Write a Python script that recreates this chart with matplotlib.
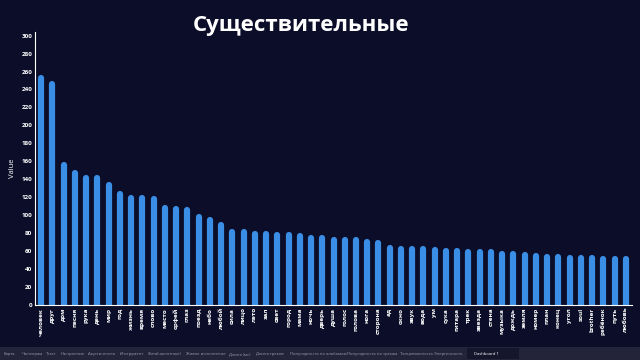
import numpy as np
import matplotlib.pyplot as plt
from matplotlib.patches import Rectangle

words = ['человек', 'друг', 'дом', 'песня', 'рука', 'день', 'мир', 'год', 'жизнь', 'время',
         'слово', 'место', 'орфей', 'глаз', 'поезд', 'небо', 'любой', 'сила', 'лицо', 'лето',
         'зал', 'свет', 'город', 'мама', 'ночь', 'дверь', 'душа', 'голос', 'голова', 'нога',
         'сторона', 'ад', 'окно', 'звук', 'вода', 'ум', 'сука', 'гитара', 'трек', 'звезда',
         'стена', 'музыка', 'дождь', 'земля', 'номер', 'план', 'конец', 'угол', 'soul', 'brother',
         'ребёнок', 'путь', 'любовь']
counts = [256, 250, 159, 150, 145, 145, 137, 127, 123, 123,
          121, 112, 110, 109, 101, 98, 93, 85, 85, 83,
          83, 81, 81, 80, 78, 78, 76, 76, 76, 74,
          73, 67, 66, 66, 66, 65, 64, 64, 63, 63,
          62, 60, 60, 59, 58, 57, 57, 56, 56, 56,
          55, 55, 55]
yticks = list(range(0, 301, 20))
tabs = ['Карта', 'Частиграм', 'Текст', 'Настроение', 'Акустичность', 'Инструмент',
        'Фита(частотные)', 'Живое исполнение', 'Длина (мс)', 'Длина треков',
        'Популярность по альбомам', 'Популярность по трекам', 'Танцевальность Энергичность']
tab_x = [4, 22, 46, 61, 88, 120, 148, 186, 229, 256, 290, 347, 400]

bg = '#0c0e29'
bar_col = '#3a8ee6'
plt.rcParams['font.family'] = ['Open Sans', 'DejaVu Sans']

fig = plt.figure(figsize=(6.4, 3.6), dpi=100, facecolor=bg)
ax = fig.add_axes([35/640, 1-305/360, 597/640, 273/360])
ax.set_facecolor(bg)

x = np.arange(len(words))
ax.set_xlim(-0.55, len(words)-0.45)
ax.set_ylim(0, 304)

# bars as thick lines with round caps (bottom cap is clipped below 0)
bar_px = 6.2
r_val = (bar_px / 2) / (273 / 304)
vals = np.array(counts, dtype=float)
ax.vlines(x, 0, vals - r_val, colors=bar_col, linewidth=bar_px*72/100,
          capstyle='round', zorder=2)

ax.set_yticks(yticks)
ax.set_yticklabels([str(t) for t in yticks], color='white', fontsize=4.5, fontweight='bold')
ax.set_xticks(x)
ax.set_xticklabels(words, rotation=90, color='white', fontsize=4.6, fontweight='bold')
ax.tick_params(length=0, pad=2)
for s in ['top', 'right']:
    ax.spines[s].set_visible(False)
for s in ['left', 'bottom']:
    ax.spines[s].set_color('white')
    ax.spines[s].set_linewidth(0.8)
    ax.spines[s].set_zorder(3)
ax.set_ylabel('Value', color='white', fontsize=5.5, labelpad=4)

fig.text(0.47, 1-26/360, 'Существительные', color='white', fontsize=16,
         fontweight='bold', ha='center', va='center')

# bottom tab strip
fig.patches.append(Rectangle((0, 0), 1, 13/360, transform=fig.transFigure,
                             facecolor='#23243a', edgecolor='none', zorder=0))
for name, px in zip(tabs, tab_x):
    fig.text(px/640, 6/360, name, color='#9a9ab0', fontsize=3, va='center')
fig.patches.append(Rectangle((467/640, 1/360), 52/640, 11/360, transform=fig.transFigure,
                             facecolor='#15162b', edgecolor='none', zorder=1))
fig.text(474/640, 6/360, 'Dashboard 1', color='white', fontsize=3, va='center')

fig.savefig('out.png', dpi=100, facecolor=bg)
